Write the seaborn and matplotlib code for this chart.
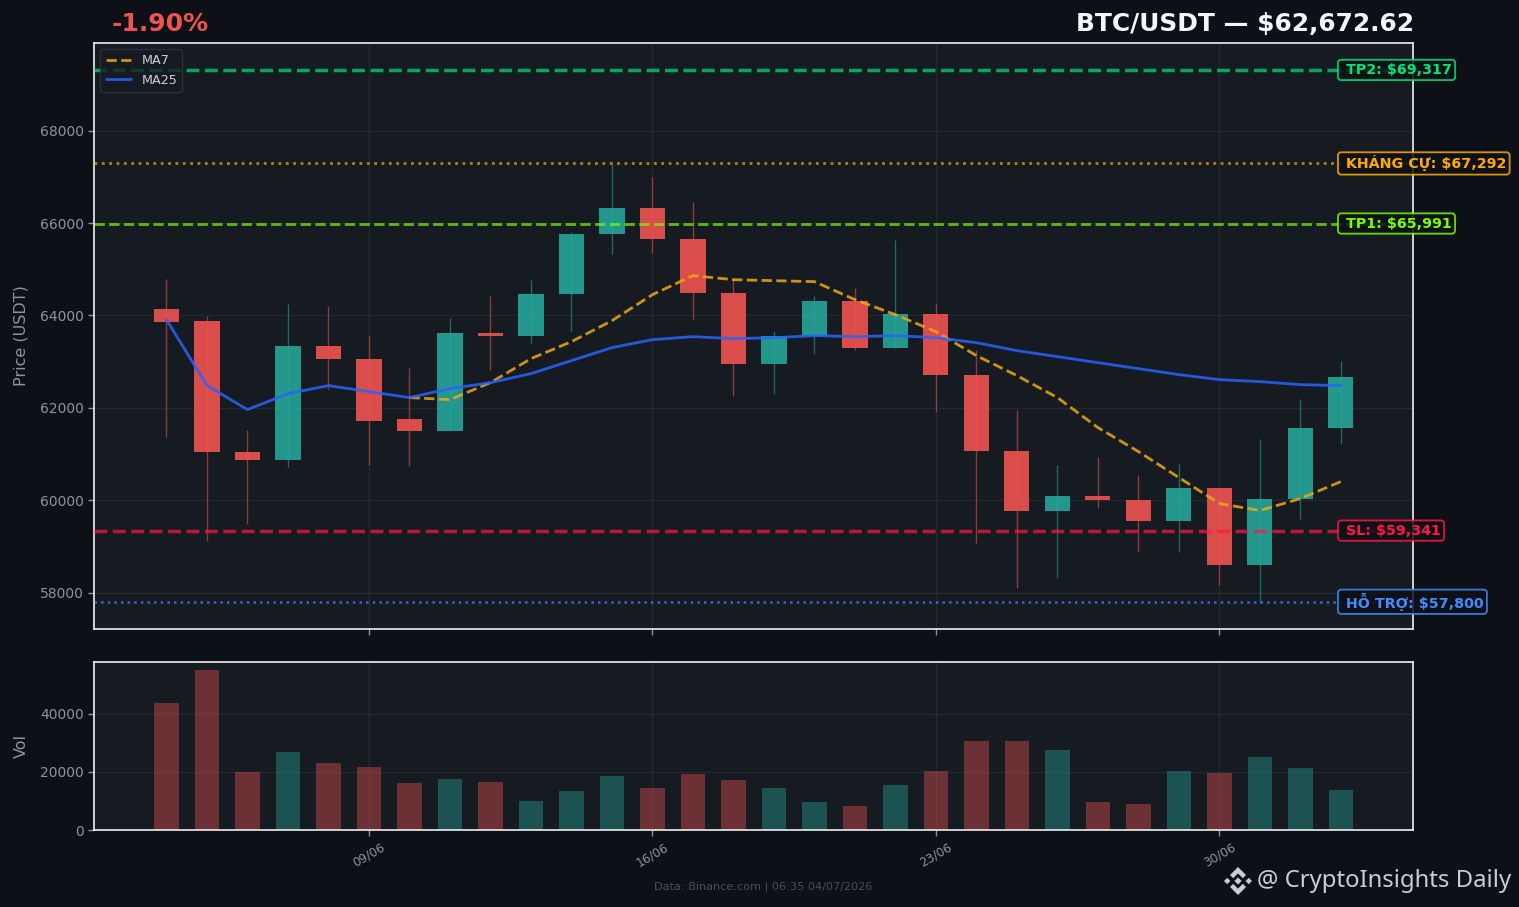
import matplotlib
matplotlib.use("Agg")
import matplotlib.pyplot as plt
import numpy as np
import pandas as pd
import seaborn as sns
from matplotlib.patches import Polygon
from matplotlib.transforms import blended_transform_factory

BG = "#0d1117"
PANEL = "#161b22"
UP = "#26a69a"
DOWN = "#ef5350"

opens = [64147, 63887, 61052, 60879, 63346, 63065, 61750, 61506, 63628, 63563,
         64472, 65771, 66333, 65662, 64494, 62957, 63563, 64320, 63303, 64039,
         62719, 61074, 59775, 60100, 60013, 59558, 60273, 58606, 60035, 61571]
closes = [63866, 61052, 60879, 63346, 63065, 61723, 61506, 63628, 63563, 64472,
          65771, 66333, 65662, 64494, 62957, 63563, 64320, 63303, 64039, 62719,
          61074, 59775, 60100, 60013, 59558, 60273, 58606, 60035, 61571, 62672]
highs = [64797, 63996, 61528, 64255, 64212, 63563, 62870, 63952, 64429, 64775,
         65814, 67286, 67004, 66463, 64818, 63671, 64429, 64602, 65641, 64277,
         63260, 61961, 60771, 60944, 60554, 60792, 60273, 61333, 62199, 63022]
lows = [61377, 59126, 59494, 60727, 62416, 60771, 60749, 61506, 62827, 63411,
        63671, 65338, 65359, 63909, 62264, 62307, 63173, 63260, 63303, 61918,
        59082, 58108, 58325, 59840, 58887, 58887, 58173, 57805, 59602, 61225]
volumes = [43800, 55200, 20000, 26900, 23100, 21700, 16200, 17600, 16500, 10000,
           13450, 18600, 14500, 19300, 17200, 14500, 9650, 8300, 15500, 20300,
           30700, 30700, 27600, 9650, 9000, 20300, 19650, 25200, 21400, 13800]
ma7 = [np.nan] * 6 + [62221, 62177, 62545, 63065, 63433, 63887, 64450, 64862,
                      64775, 64753, 64732, 64342, 64017, 63649, 63130, 62697,
                      62221, 61571, 61052, 60489, 59926, 59775, 60035, 60403]
ma25 = [63909, 62481, 61961, 62307, 62481, 62351, 62221, 62416, 62545, 62740,
        63022, 63303, 63476, 63541, 63498, 63519, 63563, 63541, 63563, 63519,
        63411, 63238, 63108, 62978, 62848, 62719, 62610, 62567, 62502, 62481]

tick_days = [5, 12, 19, 26]
tick_labels = ["09/06", "16/06", "23/06", "30/06"]

level_names = [" TP2: $69,317", " KHÁNG CỰ: $67,292", " TP1: $65,991", " SL: $59,341", " HỖ TRỢ: $57,800"]
level_prices = [69317, 67292, 65991, 59341, 57800]
level_colors = ["#00e676", "#ffab00", "#76ff03", "#ff1744", "#448aff"]
level_styles = ["--", ":", "--", "--", ":"]
level_widths = [2.5, 2.0, 2.0, 2.5, 1.8]

df = pd.DataFrame({"day": np.arange(len(opens)), "open": opens, "close": closes,
                   "high": highs, "low": lows, "volume": volumes,
                   "ma7": ma7, "ma25": ma25})
df["up"] = df["close"] >= df["open"]

sns.set_theme(style="dark", rc={"figure.facecolor": BG, "axes.facecolor": PANEL})
plt.rcParams["font.family"] = ["DejaVu Sans"]
W, H = 1519, 907
fig = plt.figure(figsize=(W / 100, H / 100), dpi=100, facecolor=BG)
ax = fig.add_axes([94 / W, 1 - 629 / H, 1319 / W, 586 / H])
ax_vol = fig.add_axes([94 / W, 1 - 830 / H, 1319 / W, 168 / H], sharex=ax)

# candles
for _, row in df.iterrows():
    col = UP if row["up"] else DOWN
    ax.vlines(row["day"], row["low"], row["high"], color=col, lw=1, alpha=0.55, zorder=3)
    bottom = min(row["open"], row["close"])
    ax.bar(row["day"], abs(row["close"] - row["open"]), bottom=bottom, width=0.62,
           color=col, alpha=0.9, zorder=2, linewidth=0)

sns.lineplot(data=df, x="day", y="ma7", ax=ax, color="#f0a80e", lw=2, linestyle="--",
             alpha=0.85, label="MA7", zorder=4, errorbar=None)
sns.lineplot(data=df, x="day", y="ma25", ax=ax, color="#2962ff", lw=2, alpha=0.85,
             label="MA25", zorder=4, errorbar=None)

trans = blended_transform_factory(ax.transAxes, ax.transData)
for name, price, col, ls, lw in zip(level_names, level_prices, level_colors, level_styles, level_widths):
    ax.axhline(price, color=col, ls=ls, lw=lw, alpha=0.7, zorder=3)
    ax.text(0.9455, price, name, transform=trans, color=col, fontsize=10.3, fontweight="bold",
            va="center", ha="left", zorder=6, clip_on=False,
            bbox=dict(boxstyle="round,pad=0.22", fc="#0d1117", ec=col, lw=1.3, alpha=0.85))

# volume
sns.barplot(data=df, x="day", y="volume", hue="up", palette={True: UP, False: DOWN},
            native_scale=True, dodge=False, width=0.6, alpha=0.4, legend=False,
            ax=ax_vol, linewidth=0, zorder=2, saturation=1)

ax.set_xlim(-1.79, 30.78)
ax.set_ylim(57210, 69900)
ax_vol.set_ylim(0, 57900)
ax.set_yticks([58000, 60000, 62000, 64000, 66000, 68000])
ax_vol.set_yticks([0, 20000, 40000])
ax_vol.set_xticks(tick_days)
ax_vol.set_xticklabels(tick_labels, rotation=30, ha="center", fontsize=8.7, color="#7d8590")
ax.tick_params(axis="x", labelbottom=False)
ax.set_xlabel("")
ax_vol.set_xlabel("")
ax.set_ylabel("Price (USDT)", color="#8b949e", fontsize=11.5, labelpad=8)
ax_vol.set_ylabel("Vol", color="#8b949e", fontsize=11.5, labelpad=8)

for a in (ax, ax_vol):
    a.set_axisbelow(True)
    a.grid(True, color="#ffffff", alpha=0.06, lw=1)
    a.tick_params(axis="both", colors="#8b949e", length=4, width=1, bottom=True, left=True)
    a.tick_params(axis="y", labelsize=10)
    for s in a.spines.values():
        s.set_color("#f0f0f0")
        s.set_linewidth(1.2)

leg = ax.legend(loc="upper left", fontsize=9.2, facecolor=PANEL, edgecolor="#30363d",
                framealpha=0.8, labelcolor="#c9d1d9", borderaxespad=0.5)
leg.set_zorder(7)

fig.text(112 / W, 1 - 24 / H, "-1.90%", color=DOWN, fontsize=18, fontweight="bold", va="center", ha="left")
fig.text(1414 / W, 1 - 24 / H, "BTC/USDT — $62,672.62", color="#f0f6fc", fontsize=17.9,
         fontweight="bold", va="center", ha="right")
fig.text(763.5 / W, 1 - 887 / H, "Data: Binance.com | 06:35 04/07/2026", color="#484f58", fontsize=8.1,
         va="center", ha="center")
fig.text(1257 / W, 1 - 881 / H, "@ CryptoInsights Daily", color="#c9ccd1", fontsize=17.2,
         family="Noto Sans", va="center", ha="left")

# exchange logo
cx, cy = 1238, 881
logo = [
    [(0, -14), (8, -6), (4.8, -2.8), (0, -7.6), (-4.8, -2.8), (-8, -6)],
    [(0, 14), (8, 6), (4.8, 2.8), (0, 7.6), (-4.8, 2.8), (-8, 6)],
    [(-14, 0), (-10.8, -3.2), (-7.6, 0), (-10.8, 3.2)],
    [(14, 0), (10.8, -3.2), (7.6, 0), (10.8, 3.2)],
    [(0, -3.6), (3.6, 0), (0, 3.6), (-3.6, 0)],
]
for pts in logo:
    xy = [((cx + px) / W, 1 - (cy + py) / H) for px, py in pts]
    fig.add_artist(Polygon(xy, closed=True, transform=fig.transFigure, fc="#c9ccd1", ec="none"))

fig.savefig("out.png", dpi=100, facecolor=BG)
